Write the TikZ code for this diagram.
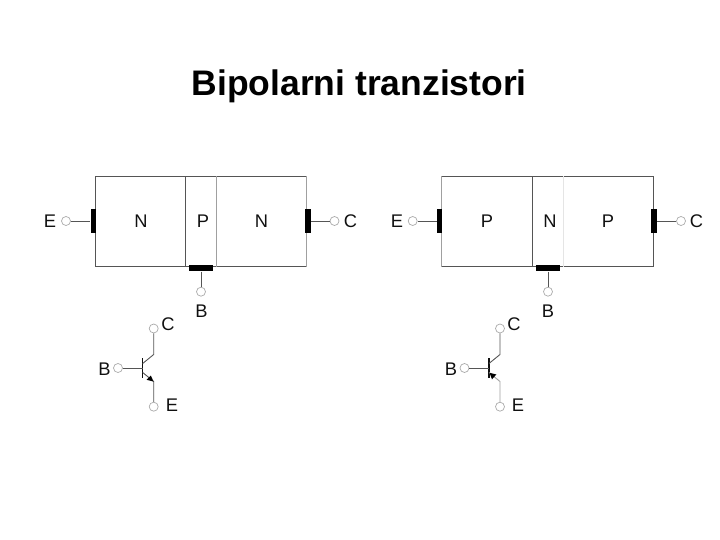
\documentclass[tikz,border=0pt]{standalone}
\usepackage{fontspec}
\setmainfont{Liberation Sans}
\definecolor{wire}{HTML}{555555}
\definecolor{pale}{HTML}{A0A0A0}
\definecolor{ring}{HTML}{ABABAB}
\definecolor{ink}{HTML}{101010}
\tikzset{
  termin/.style={circle,draw=ring,line width=.7pt,fill=white,minimum size=9pt,inner sep=0pt},
  lab/.style={font=\fontsize{18.3}{21}\selectfont,text=ink,inner sep=0pt},
  contact/.style={fill=black,draw=none,inner sep=0pt},
  lead/.style={draw=wire,line width=.9pt},
  edge/.style={draw=wire,line width=1.1pt},
  thinedge/.style={draw=pale,line width=1pt},
}
\begin{document}
\begin{tikzpicture}[x=1pt,y=-1pt]
\useasboundingbox (0,0) rectangle (720,540);
\node[font=\bfseries\fontsize{35.5}{40}\selectfont,text=black,inner sep=0pt,anchor=base] (title) at (359.2,95.7) {Bipolarni tranzistori};

% left block NPN
\draw[edge] (95.5,176.5) -- (306.5,176.5);
\draw[edge] (95.5,266.5) -- (306.5,266.5);
\draw[edge] (95.5,176.5) -- (95.5,266.5);
\draw[thinedge] (306.5,176.5) -- (306.5,266.5);
\draw[edge,line width=1.4pt] (185.5,176.5) -- (185.5,266.5);
\draw[thinedge] (216,176.5) -- (216,266.5);
\node[contact,minimum width=5pt,minimum height=24pt] (lE) at (93,221) {};
\node[contact,minimum width=5.5pt,minimum height=24pt] (lC) at (308,221) {};
\node[contact,minimum width=23.5pt,minimum height=6pt] (lB) at (201,268.3) {};
\node[termin] (ltE) at (66,221) {};
\node[termin] (ltC) at (334.5,221) {};
\node[termin] (ltB) at (201,291.7) {};
\draw[lead] (ltE) -- (lE);
\draw[lead] (lC) -- (ltC);
\draw[lead] (lB) -- (ltB);
\node[lab] at (50,221) {E};
\node[lab] at (350.5,221) {C};
\node[lab] at (201.5,311) {B};
\node[lab] at (141,221) {N};
\node[lab] at (203,221) {P};
\node[lab] at (261.5,221) {N};

% right block PNP
\draw[edge] (441.5,176.5) -- (653.5,176.5);
\draw[edge] (441.5,266.5) -- (653.5,266.5);
\draw[thinedge] (441.5,176.5) -- (441.5,266.5);
\draw[edge] (653.5,176.5) -- (653.5,266.5);
\draw[edge] (532.5,176.5) -- (532.5,266.5);
\draw[draw=black!10,line width=.9pt] (563.3,176.5) -- (563.3,266.5);
\node[contact,minimum width=5pt,minimum height=24pt] (rE) at (439.5,221) {};
\node[contact,minimum width=5.5pt,minimum height=24pt] (rC) at (654.2,221) {};
\node[contact,minimum width=24pt,minimum height=6pt] (rB) at (548,268.3) {};
\node[termin] (rtE) at (412.7,221) {};
\node[termin] (rtC) at (681,221) {};
\node[termin] (rtB) at (548,291.7) {};
\draw[lead] (rtE) -- (rE);
\draw[lead] (rC) -- (rtC);
\draw[lead] (rB) -- (rtB);
\node[lab] at (397,221) {E};
\node[lab] at (696.5,221) {C};
\node[lab] at (548,311) {B};
\node[lab] at (487,221) {P};
\node[lab] at (550,221) {N};
\node[lab] at (608,221) {P};

% left symbol NPN
\node[termin] (sB) at (118,368) {};
\node[termin] (sC) at (153.7,328.5) {};
\node[termin] (sE) at (153.7,406.7) {};
\coordinate (sb1) at (142.7,358);
\coordinate (sb2) at (142.7,378);
\coordinate (sbm) at (142.7,368);
\coordinate (scd) at (142.7,363.5);
\coordinate (sck) at (153.7,354.5);
\coordinate (sed) at (142.7,372.5);
\coordinate (sek) at (153.7,381.5);
\draw[draw=ink,line width=1.3pt] (sb1) -- (sb2);
\draw[lead] (sB) -- (sbm);
\draw[lead] (sC) -- (sck) -- (scd);
\draw[lead] (sE) -- (sek) -- (sed);
\fill[black] (153.5,381.5) -- (146.5,379.8) -- (150.8,375.5) -- cycle;
\node[lab] at (104.5,369.5) {B};
\node[lab] at (168,324.5) {C};
\node[lab] at (172,405.5) {E};

% right symbol PNP
\node[termin] (tB) at (464.5,368) {};
\node[termin] (tC) at (500,328.5) {};
\node[termin] (tE) at (500,406.7) {};
\coordinate (tb1) at (489,358);
\coordinate (tb2) at (489,378);
\coordinate (tbm) at (489,368);
\coordinate (tcd) at (489,363.5);
\coordinate (tck) at (500,354.5);
\coordinate (ted) at (489,372.5);
\coordinate (tek) at (500,381.5);
\draw[draw=ink,line width=1.3pt] (tb1) -- (tb2);
\draw[lead] (tB) -- (tbm);
\draw[lead] (tC) -- (tck) -- (tcd);
\draw[lead,draw=pale] (tE) -- (tek) -- (ted);
\fill[black] (489.5,372.8) -- (496.3,374.5) -- (492,379.3) -- cycle;
\node[lab] at (451,369.5) {B};
\node[lab] at (514,324.5) {C};
\node[lab] at (518,405.5) {E};
\end{tikzpicture}
\end{document}
